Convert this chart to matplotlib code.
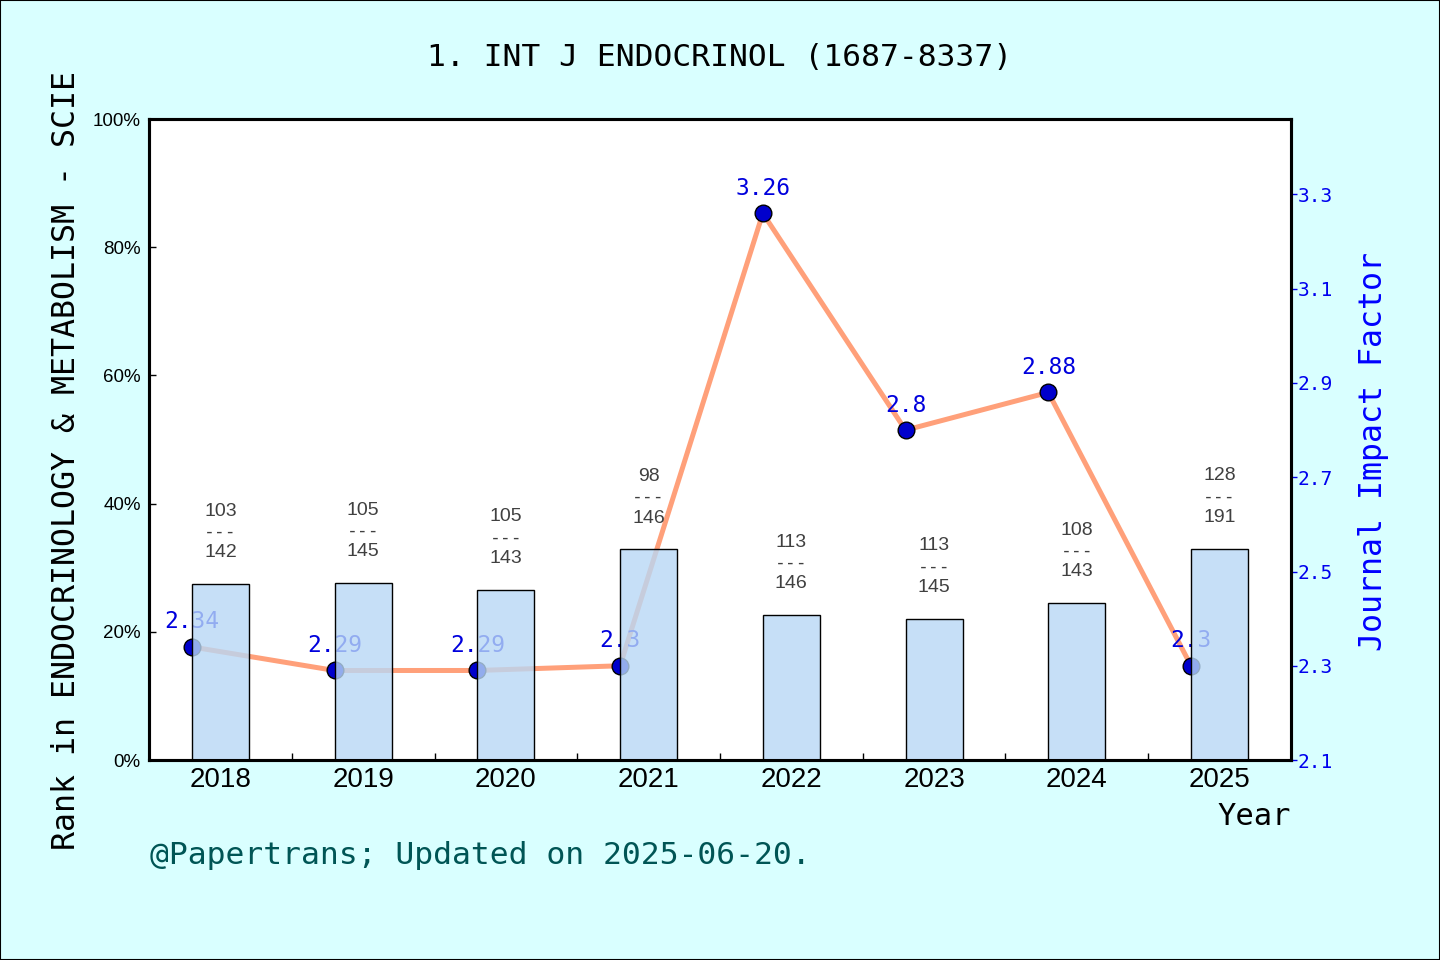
import numpy as np
import matplotlib
matplotlib.use("Agg")
import matplotlib.pyplot as plt
from matplotlib.ticker import PercentFormatter, FixedLocator
from matplotlib.patches import Rectangle

years = [2018, 2019, 2020, 2021, 2022, 2023, 2024, 2025]
rank = [103, 105, 105, 98, 113, 113, 108, 128]
total = [142, 145, 143, 146, 146, 145, 143, 191]
impact = [2.34, 2.29, 2.29, 2.3, 3.26, 2.8, 2.88, 2.3]
if_ticks = [2.1, 2.3, 2.5, 2.7, 2.9, 3.1, 3.3]

MONO = "DejaVu Sans Mono"
SANS = "Liberation Sans"
BG = "#d9ffff"
BAR = (184 / 255, 216 / 255, 246 / 255, 0.8)
LINE = "#ffa07a"
BLUE = "#0000dd"

x = np.arange(len(years))
pct = [(1 - r / t) * 100 for r, t in zip(rank, total)]

fig = plt.figure(figsize=(14.4, 9.6), dpi=100, facecolor=BG)
ax = fig.add_axes([0.1035, 0.2083, 0.793, 0.6677])
ax2 = ax.twinx()

# bars sit above the IF line, so the rank axes goes on top
ax.set_zorder(2)
ax2.set_zorder(1)
ax.patch.set_visible(False)
ax2.patch.set_facecolor("white")
ax2.patch.set_visible(True)

# rank bars with "rank / total" labels
ax.bar(x, pct, width=0.4, facecolor=BAR, edgecolor="black", linewidth=1,
       zorder=2)
for xi, p, r, t in zip(x, pct, rank, total):
    ax.annotate(str(r), (xi, p), xytext=(0, 52.5), textcoords="offset points",
                ha="center", va="center", fontsize=14, family=SANS,
                color="#404040")
    ax.annotate("---", (xi, p), xytext=(0, 37.5), textcoords="offset points",
                ha="center", va="center", fontsize=13, family=MONO,
                color="#404040")
    ax.annotate(str(t), (xi, p), xytext=(0, 22.5), textcoords="offset points",
                ha="center", va="center", fontsize=14, family=SANS,
                color="#404040")

ax.set_xlim(-0.5, 7.5)
ax.set_ylim(0, 100)
ax.yaxis.set_major_formatter(PercentFormatter(decimals=0))
ax.set_yticks([0, 20, 40, 60, 80, 100])
ax.tick_params(axis="y", direction="in", length=5, width=1, labelsize=13.5,
               pad=6)
for lab in ax.get_yticklabels():
    lab.set_family(SANS)
ax.set_xticks(x)
ax.set_xticklabels([str(y) for y in years], family=SANS, fontsize=20)
ax.tick_params(axis="x", which="major", length=0, pad=5)
ax.xaxis.set_minor_locator(FixedLocator(x[:-1] + 0.5))
ax.tick_params(axis="x", which="minor", direction="in", length=5, width=1)

# impact factor line
xl = x - 0.2
ax2.plot(xl, impact, color=LINE, linewidth=3.6, zorder=1)
ax2.plot(xl, impact, "o", markersize=12, markerfacecolor="#0000cc",
         markeredgecolor="black", markeredgewidth=1, zorder=2)
for xi, v in zip(xl, impact):
    ax2.annotate(f"{v:g}", (xi, v), xytext=(0, 18), textcoords="offset points",
                 ha="center", va="center", fontsize=16.5, family=MONO,
                 color=BLUE)
ax2.set_ylim(2.1, 3.46)
ax2.set_yticks(if_ticks)
ax2.set_yticklabels([f"{t:.1f}" for t in if_ticks], family=MONO, fontsize=14,
                    color="#0000ee")
ax2.tick_params(axis="y", direction="out", length=4, width=1, color="#0000ee",
                pad=1)

for a in (ax, ax2):
    for s in a.spines.values():
        s.set_linewidth(2.2)
        s.set_color("black")

fig.text(0.5, 0.9406, "1. INT J ENDOCRINOL (1687-8337)", ha="center",
         va="center", fontsize=22.5, family=MONO, color="black")
fig.text(0.0465, 0.52, "Rank in ENDOCRINOLOGY & METABOLISM - SCIE",
         rotation=90, ha="center", va="center", fontsize=22.8, family=MONO,
         color="black")
fig.text(0.9535, 0.5297, "Journal Impact Factor", rotation=90, ha="center",
         va="center", fontsize=22.8, family=MONO, color="#0000ff")
fig.text(0.8965, 0.149, "Year", ha="right", va="center", fontsize=22,
         family=MONO, color="black")
fig.text(0.104, 0.109, "@Papertrans; Updated on 2025-06-20.", ha="left",
         va="center", fontsize=22.6, family=MONO, color="#005555")

fig.patches.append(Rectangle((0, 0), 1, 1, transform=fig.transFigure,
                             fill=False, edgecolor="black", linewidth=1.5))

fig.savefig("out.png", dpi=100, facecolor=BG)
